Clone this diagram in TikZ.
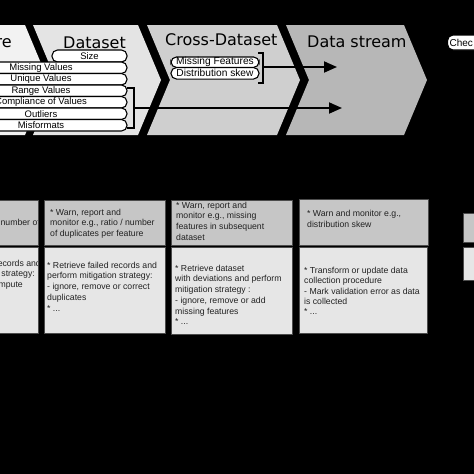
\documentclass[tikz,border=0pt]{standalone}
\usepackage{fontspec}
\setmainfont{Liberation Sans}
\newfontfamily\titlefont{DejaVu Sans}
\usetikzlibrary{arrows.meta}
\definecolor{chevA}{HTML}{F2F2F2}
\definecolor{chevB}{HTML}{E4E4E4}
\definecolor{chevC}{HTML}{CFCFCF}
\definecolor{chevD}{HTML}{B7B7B7}
\definecolor{boxdark}{HTML}{C6C6C6}
\definecolor{boxlight}{HTML}{E6E6E6}
\definecolor{txtgray}{HTML}{222222}
\begin{document}
\begin{tikzpicture}[x=1pt,y=-1pt,
  pill/.style={draw=black, line width=1.1pt, fill=white, rounded corners=5.5pt, inner sep=0pt, font=\fontsize{9.5}{10}\selectfont},
  cpill/.style={pill, font=\fontsize{10.2}{11}\selectfont},
  titletxt/.style={font=\titlefont\fontsize{16}{18}\selectfont, inner sep=0pt, anchor=base west},
  topbox/.style={draw=black!70, line width=0.6pt, fill=boxdark, anchor=north west, inner sep=0pt},
  botbox/.style={draw=black!70, line width=0.6pt, fill=boxlight, anchor=north west, inner sep=0pt},
  btxt/.style={font=\fontsize{8.7}{10.7}\selectfont, align=left, anchor=north west, inner sep=0pt, text=txtgray},
  ttxt/.style={font=\fontsize{8.7}{10.4}\selectfont, align=left, anchor=north west, inner sep=0pt, text=txtgray},
  frag/.style={font=\fontsize{8.7}{10.4}\selectfont, anchor=base east, inner sep=0pt, text=txtgray},
  conn/.style={line width=1.8pt, -{Triangle[length=13pt,width=11pt]}},
  brk/.style={line width=1.3pt}
]
\useasboundingbox (0,0) rectangle (474,474);
\fill[black] (0,0) rectangle (474,474);

% chevrons
\fill[chevA] (-120,25) -- (25,25) -- (48,80) -- (25,135) -- (-120,135) -- cycle;
\fill[chevB] (33,25) -- (138,25) -- (161,80) -- (138,135) -- (33,135) -- (56,80) -- cycle;
\fill[chevC] (147,25) -- (277,25) -- (300,80) -- (277,135) -- (147,135) -- (170,80) -- cycle;
\fill[chevD] (286,25) -- (404,25) -- (427,80) -- (404,135) -- (286,135) -- (309,80) -- cycle;

% titles
\node[titletxt, anchor=base east] (tfeat) at (12,47) {re};
\node[titletxt] (tds) at (63,48) {Dataset};
\node[titletxt] (tcd) at (165,45) {Cross-Dataset};
\node[titletxt] (tst) at (307,47) {Data stream};

% dataset pills
\node[pill, minimum width=75, minimum height=12] (psize) at (89.5,56) {Size};
\node[pill, minimum width=172, minimum height=11.5] (pmiss) at (41,67.75) {Missing Values};
\node[pill, minimum width=172, minimum height=11.5] (puniq) at (41,79.25) {Unique Values};
\node[pill, minimum width=172, minimum height=11.5] (prange) at (41,90.75) {Range Values};
\node[pill, minimum width=172, minimum height=11.5] (pcomp) at (41,102.25) {Compliance of Values};
\node[pill, minimum width=172, minimum height=11.5] (pout) at (41,113.75) {Outliers};
\node[pill, minimum width=172, minimum height=11.5] (pmis) at (41,125.25) {Misformats};

% cross-dataset pills
\node[cpill, minimum width=88, minimum height=10.5] (pmf) at (215,62.2) {Missing Features};
\node[cpill, minimum width=88, minimum height=11.5] (pds) at (215,73.3) {Distribution skew};

% brackets and arrows
\draw[brk] (127,88) -- (134,88) -- (134,128) -- (127,128);
\coordinate (b1) at (134,108);
\coordinate (e1) at (342,108);
\draw[conn] (b1) -- (e1);
\draw[brk] (258,53) -- (263,53) -- (263,83) -- (258,83);
\coordinate (b2) at (263,67);
\coordinate (e2) at (337,67);
\draw[conn] (b2) -- (e2);

% check pill
\node[pill, font=\fontsize{10}{11}\selectfont, minimum width=45, minimum height=15, text width=41, align=left, anchor=west] (pchk) at (447,42.5) {Chec};

% boxes
\node[topbox, minimum width=120, minimum height=45] (t1) at (-82,200) {};
\node[botbox, minimum width=120, minimum height=86] (u1) at (-82,247) {};
\node[topbox, minimum width=121, minimum height=45] (t2) at (44,200) {};
\node[botbox, minimum width=121, minimum height=86] (u2) at (44,247) {};
\node[topbox, minimum width=121, minimum height=45] (t3) at (171,200) {};
\node[botbox, minimum width=121, minimum height=87] (u3) at (171,247) {};
\node[topbox, minimum width=129, minimum height=46] (t4) at (299,199) {};
\node[botbox, minimum width=128, minimum height=86] (u4) at (299,247) {};
\node[topbox, minimum width=80, minimum height=29] (t5) at (463,213) {};
\node[botbox, minimum width=80, minimum height=33] (u5) at (463,247) {};

% column 1 fragments (clipped by box)
\begin{scope}
\clip (-82,200) rectangle (37.7,245);
\node[frag] (f1a) at (40,225) {number of};
\end{scope}
\begin{scope}
\clip (-82,247) rectangle (37.7,333);
\node[frag] (f1b) at (41,266) {ecords and};
\node[frag] (f1c) at (35,276.7) {strategy:};
\node[frag] (f1d) at (23,287.4) {mpute};
\end{scope}

% texts
\node[ttxt] (x2t) at (50,208.7) {* Warn, report and\\monitor e.g., ratio / number\\of duplicates per feature};
\node[btxt] (x2b) at (47,261.7) {* Retrieve failed records and\\perform mitigation strategy:\\- ignore, remove or correct\\duplicates\\* ...};
\node[ttxt, font=\fontsize{8.7}{10.7}\selectfont] (x3t) at (176,201.7) {* Warn, report and\\monitor e.g., missing\\features in subsequent\\dataset};
\node[btxt] (x3b) at (175,264.7) {* Retrieve dataset\\with deviations and perform\\mitigation strategy :\\- ignore, remove or add\\missing features\\* ...};
\node[ttxt, font=\fontsize{8.7}{11.5}\selectfont] (x4t) at (307,209.7) {* Warn and monitor e.g.,\\distribution skew};
\node[btxt, font=\fontsize{8.7}{10.4}\selectfont] (x4b) at (304,266.7) {* Transform or update data\\collection procedure\\- Mark validation error as data\\is collected\\* ...};
\end{tikzpicture}
\end{document}
